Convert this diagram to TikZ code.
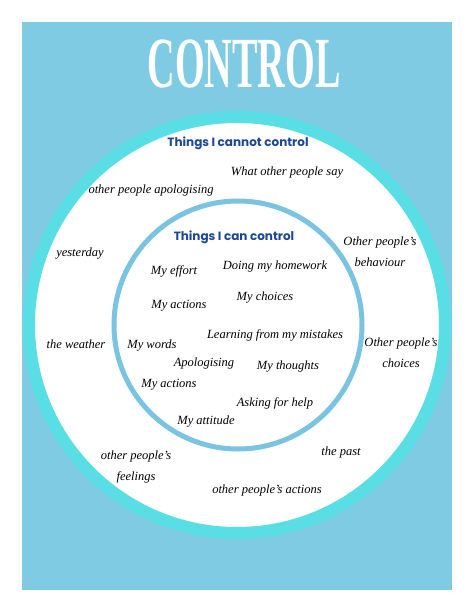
\documentclass[tikz,border=0pt]{standalone}
\usepackage{fontspec}
\setmainfont{Liberation Serif}
\newfontfamily\headfont{Poppins}
\usetikzlibrary{positioning}
\definecolor{controlSky}{RGB}{128,203,228}
\definecolor{controlCyan}{RGB}{88,222,228}
\definecolor{controlRing}{RGB}{122,196,226}
\definecolor{controlNavy}{RGB}{28,70,150}
\tikzset{
  title/.style={font=\bfseries\fontsize{72}{72}\selectfont, text=white, xscale=0.53, inner sep=0pt},
  heading/.style={font=\headfont\bfseries\fontsize{12}{14}\selectfont, text=controlNavy, inner sep=0pt},
  item/.style={font=\itshape\fontsize{12.5}{21}\selectfont, align=center, inner sep=0pt},
  outerring/.style={fill=white, draw=controlCyan, line width=12pt},
  innerring/.style={draw=controlRing, line width=5pt}
}

\begin{document}
\begin{tikzpicture}[x=1pt,y=-1pt]
    \useasboundingbox (0,0) rectangle (474,613);
    \fill[controlSky] (22,22) rectangle (452,590);
    \node[title] (head) at (244,64) {CONTROL};
    % the two circles
    \draw[outerring] (237,325) circle (208);
    \draw[innerring] (238,325) circle (124);
    % things I cannot control
    \node[heading] (cannot) at (238,143) {Things I cannot control};
    \node[item] (say) at (287,173) {What other people say};
    \node[item] (apolog) at (151,190) {other people apologising};
    \node[item] (behav) at (380,252) {Other people’s\\behaviour};
    \node[item] (yday) at (80,254) {yesterday};
    \node[item] (weather) at (76,344) {the weather};
    \node[item] (choic) at (401,353) {Other people’s\\choices};
    \node[item] (past) at (341,452) {the past};
    \node[item] (feel) at (136,467) {other people’s\\feelings};
    \node[item] (acts) at (267,490) {other people’s actions};
    % things I can control
    \node[heading] (can) at (234,237) {Things I can control};
    \node[item] (effort) at (174,271) {My effort};
    \node[item] (homework) at (275,267) {Doing my homework};
    \node[item] (mychoices) at (265,298) {My choices};
    \node[item] (actionsA) at (179,306) {My actions};
    \node[item] (mistakes) at (275,335) {Learning from my mistakes};
    \node[item] (words) at (152,346) {My words};
    \node[item] (apologising) at (204,363) {Apologising};
    \node[item] (thoughts) at (288,367) {My thoughts};
    \node[item] (actionsB) at (169,385) {My actions};
    \node[item] (help) at (275,403) {Asking for help};
    \node[item] (attitude) at (206,422) {My attitude};
  \end{tikzpicture}
\end{document}
